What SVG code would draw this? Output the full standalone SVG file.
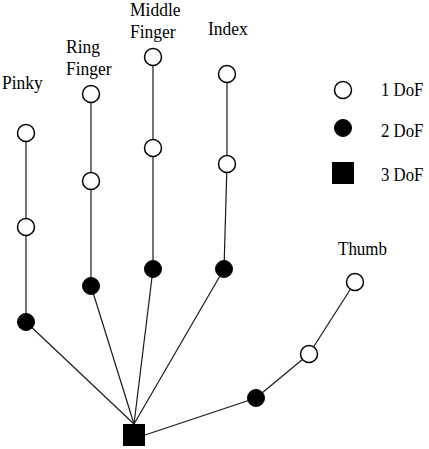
<svg xmlns="http://www.w3.org/2000/svg" width="429" height="449" viewBox="0 0 429 449">
<style>
.t{font-family:"Liberation Serif","Times New Roman",serif;font-size:17.5px;fill:#000}
.l{font-size:16.8px}
.o{fill:#fff;stroke:#000;stroke-width:1.5}
.b{fill:#000;stroke:#000;stroke-width:1}
.c{stroke:#1a1a1a;stroke-width:1.2;fill:none}
</style>
<rect width="429" height="449" fill="#fff"/>
<g id="connectors">
<line class="c" x1="26" y1="133" x2="26" y2="322"/>
<line class="c" x1="91" y1="94" x2="91" y2="286"/>
<line class="c" x1="153" y1="57" x2="153" y2="269"/>
<line class="c" x1="227" y1="74" x2="227" y2="164"/>
<line class="c" x1="227" y1="164" x2="224" y2="269"/>
<line class="c" x1="134" y1="424" x2="26" y2="322"/>
<line class="c" x1="134" y1="424" x2="91" y2="286"/>
<line class="c" x1="134" y1="424" x2="153" y2="269"/>
<line class="c" x1="134" y1="424" x2="224" y2="269"/>
<line class="c" x1="145" y1="435" x2="256" y2="398"/>
<line class="c" x1="256" y1="398" x2="309" y2="354"/>
<line class="c" x1="309" y1="354" x2="355" y2="282"/>
</g>
<g id="pinky">
<text class="t" transform="translate(2,89) scale(1,1.09)">Pinky</text>
<circle class="o" cx="26" cy="133" r="8.5"/>
<circle class="o" cx="26" cy="227" r="8.5"/>
<circle class="b" cx="26" cy="322" r="8.5"/>
</g>
<g id="ring">
<text class="t" transform="translate(66,53) scale(1,1.09)">Ring</text>
<text class="t" transform="translate(66,75) scale(1,1.09)">Finger</text>
<circle class="o" cx="91" cy="94" r="8.5"/>
<circle class="o" cx="91" cy="181" r="8.5"/>
<circle class="b" cx="91" cy="286" r="8.5"/>
</g>
<g id="middle">
<text class="t" transform="translate(130,16) scale(1,1.09)">Middle</text>
<text class="t" transform="translate(130,38) scale(1,1.09)">Finger</text>
<circle class="o" cx="153" cy="57" r="8.5"/>
<circle class="o" cx="153" cy="148" r="8.5"/>
<circle class="b" cx="153" cy="269" r="8.5"/>
</g>
<g id="index">
<text class="t" transform="translate(208,35) scale(1,1.09)">Index</text>
<circle class="o" cx="227" cy="74" r="8.5"/>
<circle class="o" cx="227" cy="164" r="8.5"/>
<circle class="b" cx="224" cy="269" r="8.5"/>
</g>
<g id="thumb">
<text class="t" transform="translate(338,255) scale(1,1.09)" style="font-size:17px">Thumb</text>
<circle class="o" cx="355" cy="282" r="8.5"/>
<circle class="o" cx="309" cy="354" r="8.5"/>
<circle class="b" cx="256" cy="398" r="8.5"/>
</g>
<g id="root">
<rect x="123" y="424" width="22" height="22" fill="#000"/>
</g>
<g id="legend">
<circle class="o" cx="343" cy="90" r="8.5"/>
<text class="t l" transform="translate(381,96) scale(1,1.09)">1 DoF</text>
<circle class="b" cx="343" cy="128" r="8.5"/>
<text class="t l" transform="translate(381,137) scale(1,1.09)">2 DoF</text>
<rect x="332" y="162" width="22" height="22" fill="#000"/>
<text class="t l" transform="translate(381,181) scale(1,1.09)">3 DoF</text>
</g>
</svg>
